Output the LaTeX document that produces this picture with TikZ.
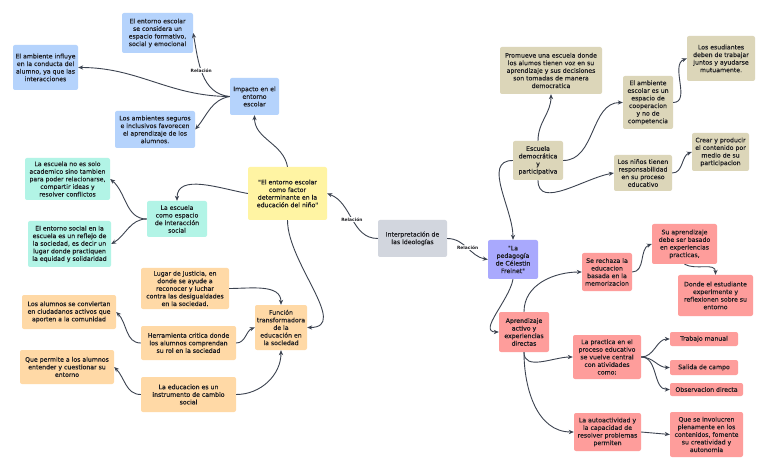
\documentclass[tikz,border=0pt]{standalone}
\usepackage{fontspec}
\setmainfont{DejaVu Sans}
\newfontfamily\bfam[FakeBold=0.7]{DejaVu Sans}
\newfontfamily\rfam[FakeBold=0.2]{DejaVu Sans}
\usetikzlibrary{arrows.meta}
\definecolor{cblue}{HTML}{B5D3FC}
\definecolor{ccyan}{HTML}{B2F4E6}
\definecolor{cyel}{HTML}{FFF4A3}
\definecolor{corange}{HTML}{FFD9A6}
\definecolor{cgray}{HTML}{D2D6DE}
\definecolor{cpurp}{HTML}{A9A9FD}
\definecolor{ctan}{HTML}{DCD6B9}
\definecolor{cred}{HTML}{FE9D9B}
\definecolor{lc}{HTML}{3C4350}
\definecolor{tc}{HTML}{1E1E22}
\begin{document}
\begin{tikzpicture}[x=1pt,y=1pt,
 box/.style={rounded corners=2pt, align=center, inner sep=1pt, font=\rfam\fontsize{6.2}{7.6}\selectfont, text=tc},
 hv/.style={font=\bfam\fontsize{6.2}{7.6}\selectfont},
 sz/.style 2 args={minimum width=#1pt, minimum height=#2pt},
 con/.style={draw=lc, line width=0.9pt, -{Stealth[length=5pt,width=4.2pt]}},
 rel/.style={font=\bfseries\fontsize{4.4}{5}\selectfont, text=tc, fill=white, inner sep=0.6pt}]
\useasboundingbox (0,0) rectangle (768,-470);
\fill[white] (0,0) rectangle (768,-470);

% blue
\node[box, fill=cblue, sz={71}{40}] (n1) at (157.5,-33) {El entorno escolar\\se considera un\\espacio formativo,\\social y emocional};
\node[box, fill=cblue, sz={65}{45}] (n2) at (45.5,-67.5) {El ambiente influye\\en la conducta del\\alumno, ya que las\\interacciones};
\node[box, fill=cblue, sz={80}{37}] (n3) at (155,-129.5) {Los ambientes seguros\\e inclusivos favorecen\\el aprendizaje de los\\alumnos.};
\node[box, fill=cblue, sz={49}{37}] (imp) at (254.5,-96.5) {Impacto en el\\entorno\\escolar};
% cyan
\node[box, fill=ccyan, sz={85}{42}] (n6) at (67.5,-179) {La escuela no es solo\\academico sino tambien\\para poder relacionarse,\\compartir ideas y\\resolver conflictos};
\node[box, hv, fill=ccyan, sz={83}{46}] (n7) at (69.5,-244) {El entorno social en la\\escuela es un reflejo de\\la sociedad, es decir un\\lugar donde practiquen\\la equidad y solidaridad};
\node[box, fill=ccyan, sz={60}{36}] (n8) at (177,-219) {La escuela\\como espacio\\de interacción\\social};
% yellow, gray
\node[box, hv, fill=cyel, sz={79}{53}] (yel) at (287.5,-193.5) {"El entorno escolar\\como factor\\determinante en la\\educación del niño"};
\node[box, fill=cgray, sz={69}{37}] (int) at (412.5,-238.5) {Interpretación de\\las ideologías};
% purple, tan
\node[box, hv, fill=cpurp, sz={50}{39}] (frei) at (513,-259.5) {"La\\pedagogía\\de Célestin\\Freinet"};
\node[box, hv, fill=ctan, sz={50}{39}] (esc) at (538,-160.5) {Escuela\\democrática\\y\\participativa};
\node[box, fill=ctan, sz={102}{47}] (n15) at (551,-70.5) {Promueve una escuela donde\\los alumos tienen voz en su\\aprendizaje y sus decisiones\\son tomadas de manera\\democratica};
\node[box, fill=ctan, sz={50}{53}] (n16) at (648,-102.5) {El ambiente\\escolar es un\\espacio de\\cooperacion\\y no de\\competencia};
\node[box, fill=ctan, sz={68}{45}] (n17) at (721,-58.5) {Los esudiantes\\deben de trabajar\\juntos y ayudarse\\mutuamente.};
\node[box, fill=ctan, sz={58}{36}] (n18) at (643,-173) {Los niños tienen\\responsabilidad\\en su proceso\\educativo};
\node[box, fill=ctan, sz={57}{38}] (n19) at (720.5,-152) {Crear y producir\\el contenido por\\medio de su\\participacion};
% red
\node[box, hv, fill=cred, sz={50}{40}] (apr) at (524,-332) {Aprendizaje\\activo y\\experiencias\\directas};
\node[box, fill=cred, sz={50}{38}] (n20) at (607,-272) {Se rechaza la\\educacion\\basada en la\\memorizacion};
\node[box, fill=cred, sz={65}{40}] (n21) at (684.5,-244) {Su aprendizaje\\debe ser basado\\en experiencias\\practicas,};
\node[box, fill=cred, sz={75}{41}] (n22) at (715.5,-295.5) {Donde el estudiante\\experimente y\\reflexionen sobre su\\entorno};
\node[box, fill=cred, sz={68}{44}] (n23) at (607,-357) {La practica en el\\proceso educativo\\se vuelve central\\con atividades\\como:};
\node[box, fill=cred, sz={68}{14}] (n24) at (704,-339) {Trabajo manual};
\node[box, fill=cred, sz={68}{15}] (n25) at (704,-367.5) {Salida de campo};
\node[box, hv, fill=cred, sz={73}{13}] (n26) at (706.5,-389.5) {Observacion directa};
\node[box, fill=cred, sz={67}{38}] (n27) at (607.5,-432) {La autoactividad y\\la capacidad de\\resolver problemas\\permiten};
\node[box, fill=cred, sz={73}{45}] (n28) at (706.5,-434.5) {Que se involucren\\plenamente en los\\contenidos, fomente\\su creatividad y\\autonomia};
% orange
\node[box, hv, fill=corange, sz={88}{41}] (n29) at (185,-288.5) {Lugar de Justicia, en\\donde se ayude a\\reconocer y luchar\\contra las desigualdades\\en la sociedad.};
\node[box, hv, fill=corange, sz={94}{34}] (n30) at (69,-312) {Los alumnos se conviertan\\en ciudadanos activos que\\aporten a la comunidad};
\node[box, hv, fill=corange, sz={95}{34}] (n31) at (188.5,-343) {Herramienta critica donde\\los alumnos comprendan\\su rol en la sociedad};
\node[box, fill=corange, sz={52}{45}] (fun) at (281,-327.5) {Función\\transformadora\\de la\\educación en\\la sociedad};
\node[box, hv, fill=corange, sz={94}{34}] (n33) at (67,-367) {Que permite a los alumnos\\entender y cuestionar su\\entorno};
\node[box, hv, fill=corange, sz={95}{35}] (n34) at (188.5,-394.5) {La educacion es un\\instrumento de cambio\\social};

% connectors
\draw[con] (imp.west) to[out=175,in=-80] node[rel, pos=0.55]{Relación} (n1.east);
\draw[con] (imp.west) to[out=180,in=0] (n2.east);
\draw[con] (imp.west) to[out=190,in=50] (n3.east);
\draw[con] (yel.north) to[out=100,in=-90] (imp.south);
\draw[con] (yel.west) to[out=170,in=90] (n8.north);
\draw[con] (n8.west) to[out=180,in=-40] (n6.east);
\draw[con] (n8.west) to[out=180,in=30] (n7.east);
\draw[con] (yel.south) to[out=-90,in=0] (fun.east);
\draw[con] (n29.east) to[out=0,in=90] (fun.north);
\draw[con] (n31.east) to[out=0,in=200] (fun.west);
\draw[con] (n31.west) to[out=180,in=-45] (n30.east);
\draw[con] (n34.east) to[out=0,in=-90] (fun.south);
\draw[con] (n34.west) to[out=180,in=-45] (n33.east);
\draw[con] (int.west) to[out=180,in=-20] node[rel, pos=0.5]{Relación} (yel.east);
\draw[con] (int.east) to[out=0,in=170] node[rel, pos=0.5]{Relación} (frei.west);
\draw[con] (esc.west) to[out=180,in=90] (frei.north);
\draw[con] (frei.south) to[out=-100,in=180] (apr.west);
\draw[con] (esc.north) to[out=90,in=-90] (n15.south);
\draw[con] (esc.east) to[out=0,in=180] (n16.west);
\draw[con] (n16.east) to[out=0,in=200] (n17.west);
\draw[con] (esc.south) to[out=-90,in=190] (n18.west);
\draw[con] (n18.east) to[out=0,in=200] (n19.west);
\draw[con] (apr.north) to[out=90,in=180] (n20.west);
\draw[con] (n20.east) to[out=0,in=200] (n21.west);
\draw[con] (n21.south) to[out=-30,in=90] (n22.north);
\draw[con] (apr.south) to[out=-90,in=180] (n23.west);
\draw[con] (apr.south) to[out=-90,in=180] (n27.west);
\draw[con] (n23.east) to[out=0,in=180] (n24.west);
\draw[con] (n23.east) to[out=0,in=180] (n25.west);
\draw[con] (n23.east) to[out=0,in=180] (n26.west);
\draw[con] (n27.east) -- (n28.west);
\end{tikzpicture}
\end{document}
